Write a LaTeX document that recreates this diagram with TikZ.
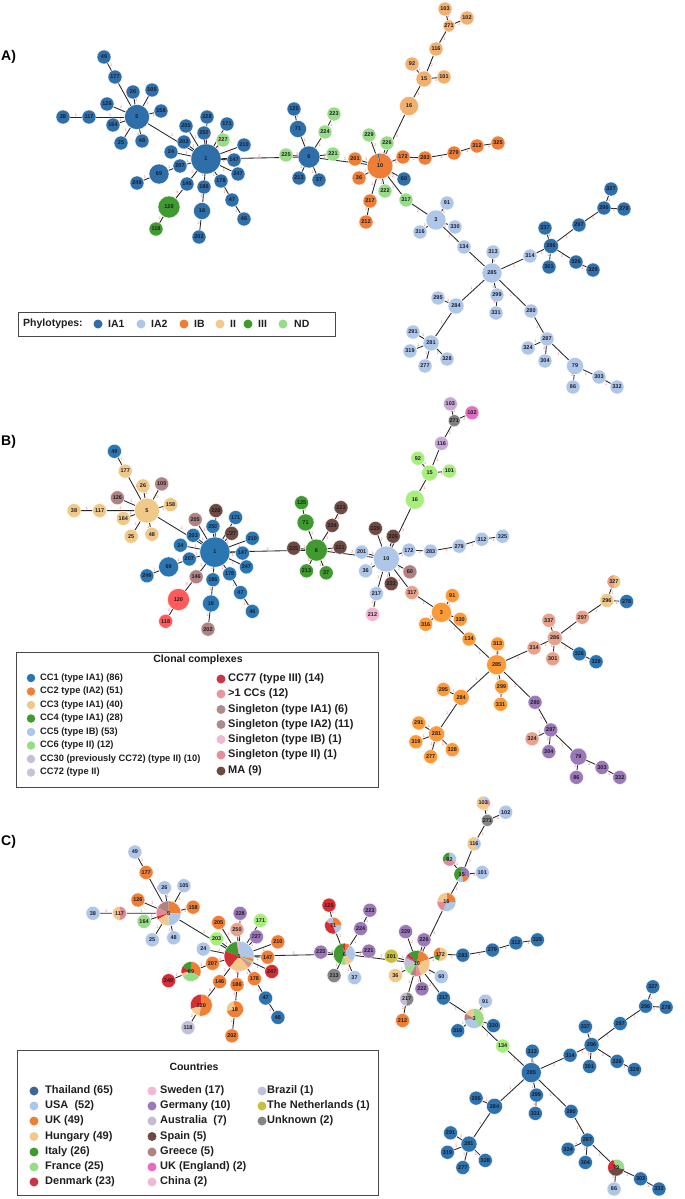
\documentclass[tikz,border=0pt]{standalone}
\usepackage{fontspec}
\setmainfont{Liberation Sans}
\pgfdeclarelayer{bgw}
\pgfdeclarelayer{bg}
\pgfdeclarelayer{pie}
\pgfsetlayers{bgw,bg,pie,main}
\definecolor{cIAone}{HTML}{2E6FAA}
\definecolor{cIAtwo}{HTML}{AEC7E8}
\definecolor{cIB}{HTML}{EE7E36}
\definecolor{cII}{HTML}{F2B06E}
\definecolor{cIIleg}{HTML}{F2C98A}
\definecolor{cIII}{HTML}{3F9A2F}
\definecolor{cND}{HTML}{98DC88}
\definecolor{cCCone}{HTML}{2A76B3}
\definecolor{cCCtwo}{HTML}{FD9A38}
\definecolor{cCCtwoleg}{HTML}{F27F3C}
\definecolor{cCCthree}{HTML}{F0C988}
\definecolor{cCCfour}{HTML}{3F9A2F}
\definecolor{cCCfive}{HTML}{AEC7E8}
\definecolor{cCCsix}{HTML}{98DC88}
\definecolor{cCCthirty}{HTML}{C5A8D6}
\definecolor{cCCthirtyleg}{HTML}{C9BDD8}
\definecolor{cCCseventytwo}{HTML}{C7C4D8}
\definecolor{cCCseventyseven}{HTML}{C9354B}
\definecolor{cMulti}{HTML}{E6979D}
\definecolor{cSingIAone}{HTML}{AE8A8A}
\definecolor{cSingIAtwo}{HTML}{AD8A90}
\definecolor{cSingIB}{HTML}{F2B7D3}
\definecolor{cSingII}{HTML}{E3909A}
\definecolor{cMA}{HTML}{6E4A42}
\definecolor{cMauve}{HTML}{B08282}
\definecolor{cRed}{HTML}{FF5A5A}
\definecolor{cPeach}{HTML}{E8A28B}
\definecolor{cLime}{HTML}{A8EE7C}
\definecolor{cGray}{HTML}{7F7F7F}
\definecolor{cMagenta}{HTML}{E46DC1}
\definecolor{cPurple}{HTML}{9B78B8}
\definecolor{cThai}{HTML}{2E72AE}
\definecolor{cThaileg}{HTML}{3B6899}
\definecolor{cUSA}{HTML}{AEC7E8}
\definecolor{cUK}{HTML}{F07F35}
\definecolor{cHun}{HTML}{F2C98A}
\definecolor{cIta}{HTML}{3F9A2F}
\definecolor{cFra}{HTML}{98DC88}
\definecolor{cDen}{HTML}{D62D35}
\definecolor{cDenleg}{HTML}{C9354B}
\definecolor{cSwe}{HTML}{F2B7D3}
\definecolor{cGer}{HTML}{9B78B8}
\definecolor{cAus}{HTML}{C6BBD4}
\definecolor{cSpa}{HTML}{6E4A42}
\definecolor{cGre}{HTML}{B08282}
\definecolor{cEng}{HTML}{E46DC1}
\definecolor{cChi}{HTML}{F2B7D3}
\definecolor{cBra}{HTML}{C0C0D8}
\definecolor{cNed}{HTML}{C9BF40}
\definecolor{cUnk}{HTML}{858585}
\definecolor{cPink}{HTML}{E38A92}
\definecolor{lblc}{HTML}{1C1C28}
\definecolor{elblc}{HTML}{F06A6A}
\tikzset{
  nd/.style={circle, inner sep=0pt, draw=white, line width=0.35pt, text=lblc, font=\bfseries\fontsize{5.5}{6}\selectfont},
  edge/.style={draw=black!85, line width=0.85pt},
  elbl/.style={text=elblc, font=\fontsize{3.8}{4}\selectfont, inner sep=0.5pt},
  legdot/.style={circle, inner sep=0pt, minimum size=9pt},
  legtxt/.style={anchor=west, inner sep=0pt, text=black!88, font=\bfseries\fontsize{11}{12}\selectfont},
  legtxts/.style={anchor=west, inner sep=0pt, text=black!88, font=\bfseries\fontsize{9.3}{11}\selectfont},
  legbox/.style={draw=black!72, line width=0.8pt, anchor=north west, inner sep=0pt},
  ttl/.style={inner sep=0pt, text=black!90, font=\bfseries\fontsize{10.5}{12}\selectfont},
  plab/.style={anchor=west, inner sep=0pt, text=black, font=\bfseries\fontsize{14}{16}\selectfont}
}
\newcommand\pfx{A}
\newcommand\dflt{cIAone}
\newcommand\SetC[2]{\foreach \i in {#1}{\expandafter\xdef\csname pc\pfx @\i\endcsname{#2}}}
\newcommand\Nd[4]{%
  \ifcsname pc\pfx @#1\endcsname\edef\curcol{\csname pc\pfx @#1\endcsname}\else\edef\curcol{\dflt}\fi
  \node[nd, minimum size=#4pt, fill=\curcol] (n#1) at (#2,#3) {#1};}
\newcommand\EdDraw[3]{\draw[edge] (n#1) -- (n#2);}
\newcommand\EdLbl[3]{\path (n#1) -- node[elbl, auto, pos=0.5] {#3} (n#2);}
\newcommand\PieS[3]{\begin{pgfonlayer}{pie}\foreach \pa/\pb/\pcol in {#3}{\fill[\pcol] (n#1.center) -- ++({-\pa}:#2) arc[start angle={-\pa}, end angle={-\pb}, radius=#2] -- cycle;}\end{pgfonlayer}}
\newcommand\Layout{%
\Nd{49}{104}{57}{14}
\Nd{177}{115}{77}{14}
\Nd{26}{133}{92}{14}
\Nd{105}{152}{90}{14}
\Nd{126}{107}{104}{14}
\Nd{158}{161}{111}{14}
\Nd{5}{137}{117}{25}
\Nd{38}{63}{117}{14}
\Nd{117}{89}{117}{14}
\Nd{164}{113}{125}{14}
\Nd{25}{121}{143}{14}
\Nd{48}{142}{141}{14}
\Nd{228}{207}{117}{14}
\Nd{205}{186}{126}{14}
\Nd{171}{227}{124}{14}
\Nd{250}{204}{133}{14}
\Nd{227}{223}{140}{14}
\Nd{210}{244}{145}{14}
\Nd{203}{184}{142}{14}
\Nd{24}{171}{152}{14}
\Nd{1}{206}{159}{30}
\Nd{147}{234}{160}{14}
\Nd{207}{180}{166}{14}
\Nd{69}{159}{174}{20}
\Nd{247}{238}{174}{14}
\Nd{249}{137}{183}{14}
\Nd{146}{187}{184}{14}
\Nd{186}{204}{187}{14}
\Nd{178}{221}{181}{14}
\Nd{47}{232}{200}{14}
\Nd{120}{169}{207}{22}
\Nd{18}{202}{211}{17}
\Nd{46}{244}{219}{14}
\Nd{118}{156}{229}{14}
\Nd{202}{199}{237}{14}
\Nd{125}{294}{109}{14}
\Nd{71}{298}{129}{17}
\Nd{223}{334}{114}{14}
\Nd{224}{325}{132}{14}
\Nd{225}{286}{155}{14}
\Nd{6}{309}{157}{22}
\Nd{221}{333}{154}{14}
\Nd{213}{299}{178}{14}
\Nd{37}{319}{180}{14}
\Nd{103}{445}{9}{14}
\Nd{102}{467}{18}{14}
\Nd{271}{449}{26}{12}
\Nd{116}{436}{49}{14}
\Nd{92}{412}{64}{14}
\Nd{15}{424}{79}{16}
\Nd{101}{444}{77}{14}
\Nd{16}{409}{106}{19}
\Nd{229}{369}{135}{14}
\Nd{226}{387}{143}{14}
\Nd{172}{403}{157}{14}
\Nd{283}{425}{158}{14}
\Nd{279}{454}{153}{14}
\Nd{312}{477}{146}{14}
\Nd{325}{498}{143}{14}
\Nd{201}{355}{159}{14}
\Nd{10}{380}{166}{26}
\Nd{36}{359}{178}{14}
\Nd{60}{404}{179}{14}
\Nd{222}{385}{191}{14}
\Nd{317}{406}{200}{14}
\Nd{217}{370}{201}{14}
\Nd{212}{366}{222}{14}
\Nd{91}{447}{203}{14}
\Nd{3}{436}{220}{20}
\Nd{330}{455}{227}{14}
\Nd{316}{420}{232}{14}
\Nd{134}{464}{247}{14}
\Nd{313}{493}{252}{14}
\Nd{314}{530}{256}{14}
\Nd{285}{492}{273}{20}
\Nd{295}{438}{298}{14}
\Nd{284}{456}{306}{16}
\Nd{299}{497}{295}{14}
\Nd{331}{496}{313}{14}
\Nd{280}{531}{311}{14}
\Nd{291}{413}{332}{14}
\Nd{281}{431}{343}{16}
\Nd{287}{547}{339}{14}
\Nd{319}{410}{351}{14}
\Nd{328}{447}{359}{14}
\Nd{324}{528}{348}{14}
\Nd{277}{425}{366}{14}
\Nd{304}{545}{361}{14}
\Nd{79}{575}{366}{17}
\Nd{303}{599}{377}{14}
\Nd{86}{573}{387}{14}
\Nd{332}{617}{387}{14}
\Nd{327}{611}{189}{14}
\Nd{296}{604}{208}{14}
\Nd{278}{624}{209}{14}
\Nd{297}{579}{225}{14}
\Nd{337}{545}{228}{14}
\Nd{286}{551}{246}{15}
\Nd{301}{549}{267}{14}
\Nd{326}{576}{262}{14}
\Nd{329}{593}{270}{14}
}
\newcommand\Edges{%
\Ed{38}{117}{1}\Ed{117}{5}{1}\Ed{49}{177}{1}\Ed{177}{5}{1}\Ed{26}{5}{1}
\Ed{105}{5}{2}\Ed{126}{5}{2}\Ed{158}{5}{1}\Ed{164}{5}{1}\Ed{25}{5}{1}
\Ed{48}{5}{1}\Ed{5}{1}{2}\Ed{228}{1}{1}\Ed{250}{1}{1}\Ed{205}{1}{1}
\Ed{171}{1}{1}\Ed{227}{1}{1}\Ed{210}{1}{1}\Ed{203}{1}{1}\Ed{24}{1}{1}
\Ed{207}{1}{1}\Ed{69}{207}{1}\Ed{249}{69}{1}\Ed{147}{1}{1}\Ed{247}{1}{1}
\Ed{146}{1}{2}\Ed{186}{1}{1}\Ed{178}{1}{1}\Ed{47}{178}{1}\Ed{46}{47}{1}
\Ed{120}{146}{8}\Ed{118}{120}{2}\Ed{18}{186}{1}\Ed{202}{18}{2}\Ed{1}{6}{2}
\Ed{225}{6}{2}\Ed{125}{71}{1}\Ed{71}{6}{1}\Ed{223}{224}{1}\Ed{224}{6}{1}
\Ed{221}{6}{1}\Ed{213}{6}{1}\Ed{37}{6}{1}\Ed{6}{10}{2}\Ed{229}{10}{2}
\Ed{226}{10}{1}\Ed{16}{10}{3}\Ed{15}{16}{1}\Ed{92}{15}{1}\Ed{101}{15}{3}
\Ed{116}{15}{2}\Ed{271}{116}{1}\Ed{103}{271}{1}\Ed{102}{271}{2}\Ed{172}{10}{1}
\Ed{283}{172}{2}\Ed{279}{283}{1}\Ed{312}{279}{1}\Ed{325}{312}{1}\Ed{201}{10}{1}
\Ed{36}{10}{1}\Ed{60}{10}{2}\Ed{222}{10}{1}\Ed{217}{10}{1}\Ed{212}{217}{2}
\Ed{317}{10}{1}\Ed{3}{317}{1}\Ed{91}{3}{1}\Ed{330}{3}{1}\Ed{316}{3}{1}
\Ed{134}{3}{1}\Ed{285}{134}{1}\Ed{313}{285}{1}\Ed{314}{285}{2}\Ed{286}{314}{1}
\Ed{337}{286}{1}\Ed{301}{286}{1}\Ed{326}{286}{2}\Ed{329}{326}{1}\Ed{297}{286}{1}
\Ed{296}{297}{1}\Ed{327}{296}{1}\Ed{278}{296}{1}\Ed{284}{285}{1}\Ed{299}{285}{1}
\Ed{331}{299}{1}\Ed{280}{285}{1}\Ed{295}{284}{1}\Ed{281}{284}{1}\Ed{291}{281}{1}
\Ed{319}{281}{1}\Ed{277}{281}{1}\Ed{328}{281}{1}\Ed{287}{280}{1}\Ed{324}{287}{1}
\Ed{304}{287}{2}\Ed{79}{287}{1}\Ed{86}{79}{2}\Ed{303}{79}{1}\Ed{332}{303}{1}
}
\newcommand\Panel{\Layout
  \let\Ed\EdDraw
  \begin{pgfonlayer}{bg}\Edges\end{pgfonlayer}
  \let\Ed\EdLbl
  \Edges}
\begin{document}
\begin{tikzpicture}[x=1pt,y=-1pt]
\useasboundingbox (0,0) rectangle (685,1199);
\begin{pgfonlayer}{bgw}\fill[white] (0,0) rectangle (685,1199);\end{pgfonlayer}
% ---------------- Panel A
\node[plab] (labA) at (1,57) {A)};
\renewcommand\pfx{A}\renewcommand\dflt{cIAone}
\SetC{3,91,330,316,134,313,314,285,295,284,299,331,280,291,281,319,328,277,287,324,304,79,303,86,332}{cIAtwo}
\SetC{201,36,217,212,172,283,279,312,325}{cIB}
\SetC{15,16,92,101,116,271,103,102}{cII}
\SetC{120,118}{cIII}
\SetC{227,225,223,224,221,229,226,222,317}{cND}
\SetC{10}{none}
\begin{scope}
\Panel
\PieS{10}{12.8}{92/102/cIAone, 102/452/cIB}
\end{scope}
\node[legbox, minimum width=317pt, minimum height=24pt] (legA) at (18,312) {};
\node[legtxt, font=\bfseries\fontsize{10.5}{12}\selectfont] (legAt) at (23,324) {Phylotypes:};
\node[legdot, fill=cIAone] (ldA1) at (98,324) {};
\node[legtxt, font=\bfseries\fontsize{10.5}{12}\selectfont] (ltA1) at (108,324) {IA1};
\node[legdot, fill=cIAtwo] (ldA2) at (141,324) {};
\node[legtxt, font=\bfseries\fontsize{10.5}{12}\selectfont] (ltA2) at (151,324) {IA2};
\node[legdot, fill=cIB] (ldA3) at (184,324) {};
\node[legtxt, font=\bfseries\fontsize{10.5}{12}\selectfont] (ltA3) at (194,324) {IB};
\node[legdot, fill=cIIleg] (ldA4) at (220,324) {};
\node[legtxt, font=\bfseries\fontsize{10.5}{12}\selectfont] (ltA4) at (230,324) {II};
\node[legdot, fill=cIII] (ldA5) at (248,324) {};
\node[legtxt, font=\bfseries\fontsize{10.5}{12}\selectfont] (ltA5) at (258,324) {III};
\node[legdot, fill=cND] (ldA6) at (283,324) {};
\node[legtxt, font=\bfseries\fontsize{10.5}{12}\selectfont] (ltA6) at (294,324) {ND};
% ---------------- Panel B
\node[plab] (labB) at (1,442) {B)};
\renewcommand\pfx{B}\renewcommand\dflt{cCCone}
\SetC{5,177,26,158,164,25,48,117,38,296}{cCCthree}
\SetC{126,105,205,146,202,60}{cMauve}
\SetC{228,227,225,224,223,221,229,226,222}{cMA}
\SetC{120,118}{cRed}
\SetC{125,71,6,213,37}{cCCfour}
\SetC{10,201,36,172,283,279,312,325,217}{cCCfive}
\SetC{212}{cSingIB}
\SetC{317,314,286,337,301,297,324}{cPeach}
\SetC{16,15,92,101}{cLime}
\SetC{116,103}{cCCthirty}
\SetC{271}{cGray}
\SetC{102}{cMagenta}
\SetC{3,91,330,316,134,285,313,284,295,299,331,281,291,319,277,328}{cCCtwo}
\SetC{280,287,304,79,86,303,332}{cPurple}
\SetC{327}{none}
\begin{scope}[shift={(12,395)}, xscale=0.985, yscale=0.988]
\Panel
\PieS{327}{6.8}{90/270/cPeach, 270/450/cCCthree}
\end{scope}
\node[legbox, minimum width=362pt, minimum height=135pt] (legB) at (16,652) {};
\node[ttl] (legBt) at (198,660) {Clonal complexes};
\foreach \k/\yy/\cc/\tt in {1/678/cCCone/CC1 (type IA1) (86), 2/691.5/cCCtwoleg/CC2 type (IA2) (51), 3/705/cCCthree/CC3 (type IA1) (40), 4/718.5/cCCfour/CC4 (type IA1) (28), 5/732/cCCfive/CC5 (type IB) (53), 6/745.5/cCCsix/CC6 (type II) (12), 7/759/cCCthirtyleg/CC30 (previously CC72) (type II) (10), 8/772.5/cCCseventytwo/CC72 (type II)}{
  \node[legdot, minimum size=8.5pt, fill=\cc] (ldBl\k) at (31,\yy) {};
  \node[legtxts] (ltBl\k) at (40,\yy) {\tt};
}
\foreach \k/\yy/\cc/\tt in {1/679/cCCseventyseven/CC77 (type III) (14), 2/694/cMulti/>1 CCs (12), 3/709.5/cSingIAone/Singleton (type IA1) (6), 4/724.5/cSingIAtwo/Singleton (type IA2) (11), 5/739.5/cSingIB/Singleton (type IB) (1), 6/755/cSingII/Singleton (type II) (1), 7/771/cMA/MA (9)}{
  \node[legdot, fill=\cc] (ldBr\k) at (221,\yy) {};
  \node[legtxt] (ltBr\k) at (228,\yy) {\tt};
}
% ---------------- Panel C
\node[plab] (labC) at (1,842) {C)};
\renewcommand\pfx{C}\renewcommand\dflt{cThai}
\SetC{49,26,105,38,25,48,24,37,60,101,102,91,86}{cUSA}
\SetC{177,126,158,205,210,147,207,146,186,178,202,212}{cUK}
\SetC{36}{cHun}
\SetC{164}{cFra}
\SetC{171,203,134}{cLime}
\SetC{249,247,125}{cDen}
\SetC{228,227,225,224,223,221,229,226,222}{cGer}
\SetC{250}{cPeach}
\SetC{118}{cBra}
\SetC{201}{cNed}
\SetC{213,271}{cUnk}
\SetC{117,5,1,69,120,18,71,6,10,172,217,16,15,92,116,103,3,79}{none}
\begin{scope}[shift={(28.6,793.8)}, xscale=1.0217, yscale=1.0212]
\Panel
\PieS{117}{6.8}{90/270/cHun, 270/450/cPink}
\PieS{5}{12.3}{0/90/cUK, 90/150/cGre, 150/195/cPink, 195/210/cDen, 210/270/cHun, 270/360/cUSA}
\PieS{1}{14.8}{-10/90/cUSA, 90/100/cSwe, 100/160/cIta, 160/230/cDen, 230/310/cHun, 310/330/cPink, 330/340/cFra, 340/350/cUK}
\PieS{69}{9.8}{-30/90/cUK, 90/150/cIta, 150/190/cDen, 190/215/cHun, 215/330/cFra}
\PieS{120}{10.8}{90/200/cDen, 200/260/cHun, 260/450/cUK}
\PieS{18}{8.3}{100/190/cHun, 190/460/cUK}
\PieS{71}{8.3}{0/90/cUK, 90/150/cAus, 150/290/cDen, 290/360/cUSA}
\PieS{6}{10.8}{60/85/cUK, 85/100/cDen, 100/250/cIta, 250/275/cFra, 275/320/cHun, 320/420/cUSA}
\PieS{10}{12.8}{20/80/cUK, 80/130/cIta, 130/145/cDen, 145/155/cGer, 155/200/cAus, 200/240/cFra, 240/265/cGre, 265/290/cPink, 290/380/cHun}
\PieS{172}{6.8}{90/200/cUK, 200/260/cIta, 260/450/cHun}
\PieS{217}{6.8}{90/270/cAus, 270/450/cUnk}
\PieS{16}{9.3}{0/90/cUK, 90/180/cHun, 180/250/cPink, 250/360/cUSA}
\PieS{15}{7.8}{100/230/cIta, 230/280/cUSA, 280/340/cUK, 340/460/cGer}
\PieS{92}{6.8}{90/200/cIta, 200/330/cPink, 330/450/cUSA}
\PieS{116}{6.8}{60/300/cHun, 300/420/cUSA}
\PieS{103}{6.8}{30/90/cUSA, 90/340/cHun, 340/390/cPink}
\PieS{3}{9.8}{95/150/cHun, 150/190/cGre, 190/300/cUSA, 300/455/cFra}
\PieS{79}{8.3}{110/200/cDen, 200/350/cSpa, 350/470/cFra}
\end{scope}
\node[legbox, minimum width=361pt, minimum height=145pt] (legC) at (17,1050) {};
\node[ttl] (legCt) at (194,1067) {Countries};
\foreach \k/\yy/\cc/\tt in {1/1091/cThaileg/Thailand (65), 2/1106/cUSA/USA\ \ (52), 3/1121/cUK/UK (49), 4/1136.5/cHun/Hungary (49), 5/1152/cIta/Italy (26), 6/1167/cFra/France (25), 7/1182/cDenleg/Denmark (23)}{
  \node[legdot, fill=\cc] (ldCa\k) at (34,\yy) {};
  \node[legtxt] (ltCa\k) at (45,\yy) {\tt};
}
\foreach \k/\yy/\cc/\tt in {1/1091/cSwe/Sweden (17), 2/1106/cGer/Germany (10), 3/1121/cAus/Australia\ \ (7), 4/1136.5/cSpa/Spain (5), 5/1152/cGre/Greece (5), 6/1167/cEng/UK (England) (2), 7/1182/cChi/China (2)}{
  \node[legdot, fill=\cc] (ldCb\k) at (152,\yy) {};
  \node[legtxt] (ltCb\k) at (160,\yy) {\tt};
}
\foreach \k/\yy/\cc/\tt in {1/1091/cBra/Brazil (1), 2/1106/cNed/The Netherlands (1), 3/1121/cUnk/Unknown (2)}{
  \node[legdot, fill=\cc] (ldCc\k) at (262,\yy) {};
  \node[legtxt] (ltCc\k) at (267,\yy) {\tt};
}
\end{tikzpicture}
\end{document}
